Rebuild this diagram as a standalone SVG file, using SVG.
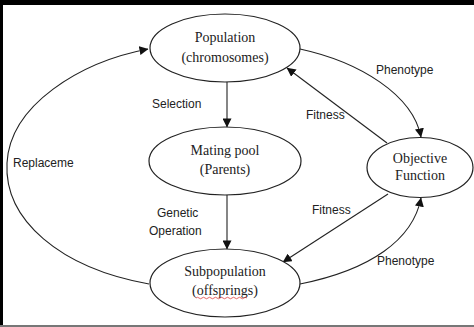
<svg xmlns="http://www.w3.org/2000/svg" width="474" height="327" viewBox="0 0 474 327">
<style>
.node{fill:#fff;stroke:#222;stroke-width:1.2}
.nt{font-family:"Liberation Serif",serif;font-size:14px;fill:#222;text-anchor:middle}
.lb{font-family:"Liberation Sans",sans-serif;font-size:12px;fill:#222}
.c{fill:none;stroke:#222;stroke-width:1.1}
</style>
<defs>
<marker id="ah" viewBox="0 0 10 10" refX="9.5" refY="5" markerWidth="9" markerHeight="9" markerUnits="userSpaceOnUse" orient="auto">
<path d="M0,0 L10,5 L0,10 Z" fill="#111"/>
</marker>
</defs>
<rect x="0" y="0" width="474" height="327" fill="#fff"/>
<rect x="0" y="0" width="474" height="5" fill="#000"/>
<rect x="0" y="0" width="3" height="327" fill="#000"/>
<rect x="0" y="325" width="474" height="2" fill="#777"/>
<g id="connectors">
<path class="c" d="M227,82 L227,127" marker-end="url(#ah)"/>
<path class="c" d="M227,195 L227,249" marker-end="url(#ah)"/>
<path class="c" d="M149,284 C60,268 4,220 7,163 C10,105 80,62 148,49" marker-end="url(#ah)"/>
<path class="c" d="M300,49 C360,62 413,95 421,137" marker-end="url(#ah)"/>
<path class="c" d="M300,284 C370,270 413,240 421,198" marker-end="url(#ah)"/>
<path class="c" d="M387,143 L287,68" marker-end="url(#ah)"/>
<path class="c" d="M388,194 L283,262" marker-end="url(#ah)"/>
</g>
<g id="population">
<ellipse class="node" cx="225" cy="48" rx="75" ry="34"/>
<text class="nt" x="225" y="42">Population</text>
<text class="nt" x="225" y="62">(chromosomes)</text>
</g>
<g id="mating-pool">
<ellipse class="node" cx="225" cy="161" rx="76" ry="34"/>
<text class="nt" x="225" y="155">Mating pool</text>
<text class="nt" x="225" y="174">(Parents)</text>
</g>
<g id="subpopulation">
<ellipse class="node" cx="225" cy="283" rx="75" ry="34"/>
<text class="nt" x="225" y="276">Subpopulation</text>
<text class="nt" x="225" y="295">(offsprings)</text>
<path d="M196,298 q1.5,-1.5 3,0 t3,0 t3,0 t3,0 t3,0 t3,0 t3,0 t3,0 t3,0 t3,0 t3,0 t3,0 t3,0 t3,0 t3,0 t3,0 t3,0" fill="none" stroke="#e04040" stroke-width="0.8"/>
</g>
<g id="objective">
<ellipse class="node" cx="420" cy="167.5" rx="53" ry="30"/>
<text class="nt" x="420" y="163">Objective</text>
<text class="nt" x="420" y="180">Function</text>
</g>
<g id="labels">
<text class="lb" x="376" y="74">Phenotype</text>
<text class="lb" x="152" y="108">Selection</text>
<text class="lb" x="306" y="119">Fitness</text>
<text class="lb" x="13" y="167">Replaceme</text>
<text class="lb" x="312" y="214">Fitness</text>
<text class="lb" x="157" y="217">Genetic</text>
<text class="lb" x="149" y="235">Operation</text>
<text class="lb" x="377" y="265">Phenotype</text>
</g>
</svg>
